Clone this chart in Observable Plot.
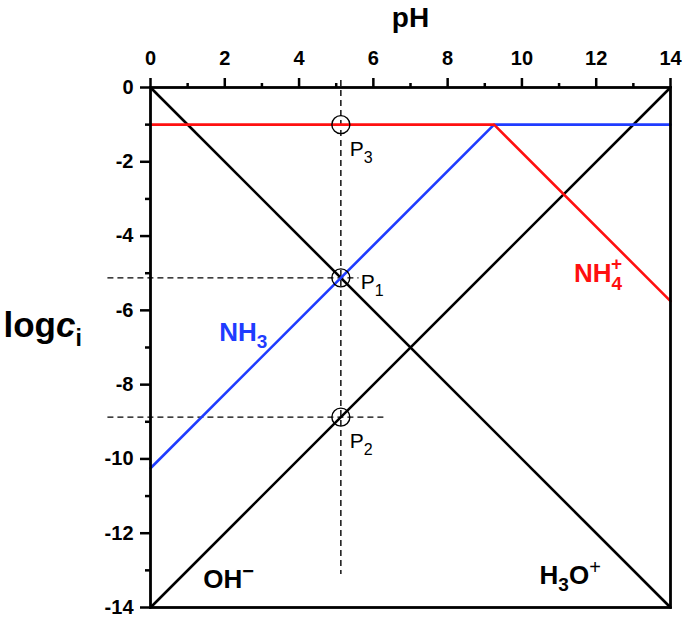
<!DOCTYPE html>
<html><head><meta charset="utf-8">
<script src="https://cdn.jsdelivr.net/npm/d3@7"></script>
<script src="https://cdn.jsdelivr.net/npm/@observablehq/plot@0.6"></script>
<style>body{margin:0;background:#fff}svg{font-family:"Liberation Sans",Arial,sans-serif}</style>
</head><body><div id="chart"></div>
<script>
// Data
const h3oX = [0, 14], h3oY = [0, -14];
const ohX = [0, 14], ohY = [-14, 0];
const nh3X = [0, 9.25, 14], nh3Y = [-10.25, -1, -1];
const nh4X = [0, 9.25, 14], nh4Y = [-1, -1, -5.75];
const pNames = ["P1", "P2", "P3"];
const pX = [5.125, 5.125, 5.125];
const pY = [-5.125, -8.875, -1];
const majorX = [0, 2, 4, 6, 8, 10, 12, 14];
const minorX = [1, 3, 5, 7, 9, 11, 13];
const majorY = [0, -2, -4, -6, -8, -10, -12, -14];
const minorY = [-1, -3, -5, -7, -9, -11, -13];
// dashed guide lines
const guideX1 = [5.125, -1.16, -1.16], guideY1 = [0.2, -5.125, -8.875];
const guideX2 = [5.125, 5.6, 6.27], guideY2 = [-13.1, -5.125, -8.875];
const speciesLabels = ["NH3", "NH4+", "OH-", "H3O+"];
const speciesX = [2.5, 12.05, 2.1, 11.3];
const speciesY = [-6.6, -5.0, -13.25, -13.15];
const speciesColor = ["#1f3cff", "#ff1010", "#000", "#000"];

const line = (xs, ys) => xs.map((x, i) => ({x, y: ys[i]}));
const guides = guideX1.map((x, i) => ({x1: x, y1: guideY1[i], x2: guideX2[i], y2: guideY2[i]}));
const pts = pNames.map((n, i) => ({n, x: pX[i], y: pY[i]}));
const pOff = {P1: [20, 4], P2: [9, 24], P3: [9, 25]};
const species = speciesLabels.map((t, i) => ({t, x: speciesX[i], y: speciesY[i], c: speciesColor[i]}));

const plot = Plot.plot({
  width: 685, height: 623,
  marginLeft: 150, marginRight: 15, marginTop: 87, marginBottom: 16,
  style: {fontWeight: "bold", fontFamily: "Liberation Sans, Arial, sans-serif"},
  x: {domain: [0, 14]},
  y: {domain: [-14, 0]},
  marks: [
    Plot.link(guides, {x1: "x1", y1: "y1", x2: "x2", y2: "y2", stroke: "#000", strokeWidth: 1.4, strokeDasharray: "6,4"}),
    Plot.line(line(h3oX, h3oY), {x: "x", y: "y", stroke: "#000", strokeWidth: 2.6}),
    Plot.line(line(ohX, ohY), {x: "x", y: "y", stroke: "#000", strokeWidth: 2.6}),
    Plot.line(line(nh3X, nh3Y), {x: "x", y: "y", stroke: "#1f3cff", strokeWidth: 2.6}),
    Plot.line(line(nh4X, nh4Y), {x: "x", y: "y", stroke: "#ff1010", strokeWidth: 2.6}),
    Plot.dot(pts, {x: "x", y: "y", r: 9, stroke: "#000", fill: "none", strokeWidth: 1.4}),
    Plot.text(pts, {x: "x", y: "y", text: "n", fontSize: 21, fontWeight: "normal", textAnchor: "start", fill: "#000"}),
    Plot.text(species, {x: "x", y: "y", text: "t", fill: "c", fontSize: 26, fontWeight: "bold"}),
    Plot.frame({stroke: "#000", strokeWidth: 2.8}),
    Plot.axisX({anchor: "top", ticks: majorX, tickSize: 10, tickPadding: 13, tickFormat: d => `${d}`, fontSize: 20, label: null, strokeWidth: 2.5}),
    Plot.axisX({anchor: "top", ticks: minorX, tickSize: 5, tickFormat: () => "", label: null, strokeWidth: 2.5}),
    Plot.axisY({anchor: "left", ticks: majorY, tickSize: 10, tickPadding: 7, tickFormat: d => `${d}`, fontSize: 20, label: null, strokeWidth: 2.5}),
    Plot.axisY({anchor: "left", ticks: minorY, tickSize: 5, tickFormat: () => "", label: null, strokeWidth: 2.5}),
    Plot.text(["pH"], {frameAnchor: "top", dy: -80, fontSize: 28, fontWeight: "bold"}),
    Plot.text(["logci"], {frameAnchor: "left", textAnchor: "start", dx: -147, dy: -22, fontSize: 35, fontWeight: "bold"})
  ]
});
document.getElementById("chart").appendChild(plot);

// rich text (sub/superscripts), P label offsets, tick label size
const rich = {
  "NH3": 'NH<tspan dy="7" font-size="19">3</tspan>',
  "NH4+": 'NH<tspan dy="8" font-size="19">4</tspan><tspan dx="-11" dy="-20" font-size="19">+</tspan>',
  "OH-": 'OH<tspan dy="-10" font-size="20">\u2212</tspan>',
  "H3O+": 'H<tspan dy="7" font-size="19">3</tspan><tspan dy="-7">O</tspan><tspan dy="-10" font-size="20" font-weight="normal">+</tspan>',
  "P1": 'P<tspan dy="7" font-size="16">1</tspan>',
  "P2": 'P<tspan dy="7" font-size="16">2</tspan>',
  "P3": 'P<tspan dy="7" font-size="16">3</tspan>',
  "logci": 'log<tspan font-style="italic">c</tspan><tspan dy="9" font-size="23">i</tspan>'
};
plot.querySelectorAll("text").forEach(t => {
  const s = t.textContent;
  if (/^-?\d+$/.test(s)) { t.setAttribute("font-size", 20); t.style.fontSize = "20px"; t.style.fontWeight = "bold"; }
  if (pOff[s]) {
    const [dx, dy] = pOff[s];
    t.setAttribute("dx", dx); t.setAttribute("dy", dy);
  }
  if (rich[s]) t.innerHTML = rich[s];
});
</script></body></html>
